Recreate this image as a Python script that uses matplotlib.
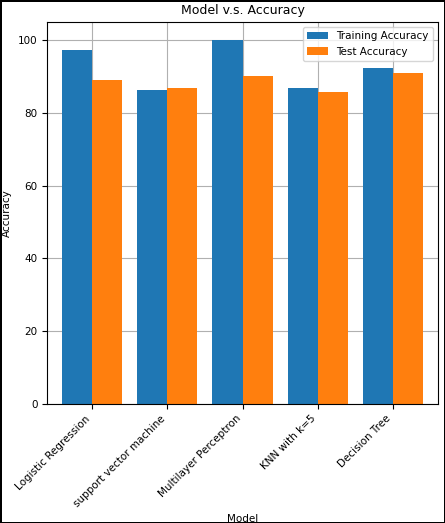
import numpy as np
import matplotlib
matplotlib.use("Agg")
import matplotlib.pyplot as plt

models = ["Logistic Regression", "support vector machine", "Multilayer Perceptron",
          "KNN with k=5", "Decision Tree"]
train_acc = [97.2, 86.2, 100.0, 86.8, 92.4]
test_acc = [89.0, 86.8, 90.1, 85.7, 91.0]

fig = plt.figure(figsize=(4.45, 5.23), dpi=100, facecolor="white",
                 edgecolor="black", linewidth=1)
ax = fig.add_axes([0.106, 0.228, 0.878, 0.73])

x = np.arange(len(models))
w = 0.4
ax.bar(x - w / 2, train_acc, w, color="#1f77b4", label="Training Accuracy", zorder=2)
ax.bar(x + w / 2, test_acc, w, color="#ff7f0e", label="Test Accuracy", zorder=2)

ax.set_xticks(x)
ax.set_xticklabels(models, rotation=45, ha="right", fontsize=7.5)
ax.tick_params(axis="y", labelsize=7.5)
ax.set_xlim(-0.6, 4.6)
ax.set_ylim(0, 105)
ax.grid(True, color="#b0b0b0", linewidth=0.8, zorder=0)
ax.set_axisbelow(True)
ax.set_xlabel("Model", fontsize=7.5)
ax.set_ylabel("Accuracy", fontsize=7.5)
ax.set_title("Model v.s. Accuracy", fontsize=9)
ax.legend(loc="upper right", fontsize=7.5)

fig.savefig("out.png", dpi=100, facecolor="white", edgecolor="black")
